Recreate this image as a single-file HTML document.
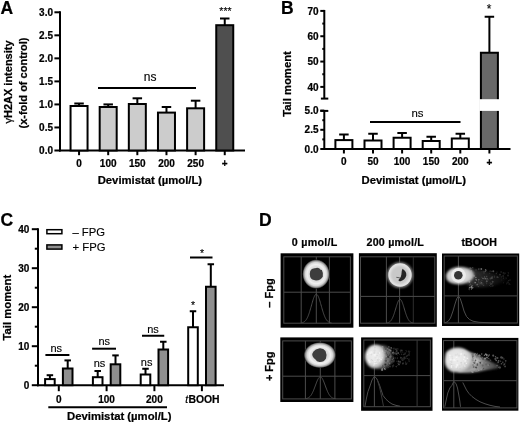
<!DOCTYPE html>
<html><head><meta charset="utf-8"><style>
html,body{margin:0;padding:0;background:#fff;}
svg{display:block;}
text{font-family:"Liberation Sans", Arial, sans-serif;fill:#000;}
text[font-weight="bold"]{stroke:#000;stroke-width:0.22px;}
text[font-weight="normal"]{stroke:#000;stroke-width:0.12px;}
</style></head><body>
<svg width="520" height="424" viewBox="0 0 520 424">
<rect width="520" height="424" fill="#fff"/>
<text x="0.5" y="13.6" font-size="17.5" font-weight="bold" text-anchor="start" >A</text>
<line x1="60" y1="11.3" x2="60" y2="151.5" stroke="#000" stroke-width="2"/>
<line x1="54.4" y1="150.5" x2="60" y2="150.5" stroke="#000" stroke-width="2"/>
<text x="53" y="154.1" font-size="10" font-weight="bold" text-anchor="end" >0.0</text>
<line x1="54.4" y1="127.465" x2="60" y2="127.465" stroke="#000" stroke-width="2"/>
<text x="53" y="131.065" font-size="10" font-weight="bold" text-anchor="end" >0.5</text>
<line x1="54.4" y1="104.43" x2="60" y2="104.43" stroke="#000" stroke-width="2"/>
<text x="53" y="108.03" font-size="10" font-weight="bold" text-anchor="end" >1.0</text>
<line x1="54.4" y1="81.395" x2="60" y2="81.395" stroke="#000" stroke-width="2"/>
<text x="53" y="84.99499999999999" font-size="10" font-weight="bold" text-anchor="end" >1.5</text>
<line x1="54.4" y1="58.36" x2="60" y2="58.36" stroke="#000" stroke-width="2"/>
<text x="53" y="61.96" font-size="10" font-weight="bold" text-anchor="end" >2.0</text>
<line x1="54.4" y1="35.325" x2="60" y2="35.325" stroke="#000" stroke-width="2"/>
<text x="53" y="38.925000000000004" font-size="10" font-weight="bold" text-anchor="end" >2.5</text>
<line x1="54.4" y1="12.289999999999992" x2="60" y2="12.289999999999992" stroke="#000" stroke-width="2"/>
<text x="53" y="15.889999999999992" font-size="10" font-weight="bold" text-anchor="end" >3.0</text>
<line x1="59" y1="150.5" x2="245" y2="150.5" stroke="#000" stroke-width="2"/>
<line x1="79.05" y1="103.5" x2="79.05" y2="106" stroke="#000" stroke-width="2"/>
<line x1="74.3" y1="103.5" x2="83.8" y2="103.5" stroke="#000" stroke-width="2"/>
<rect x="70.55" y="106" width="17" height="44.5" fill="#fff" stroke="#000" stroke-width="2"/>
<line x1="79.05" y1="150.5" x2="79.05" y2="155.2" stroke="#000" stroke-width="2"/>
<text x="79.05" y="166.8" font-size="10" font-weight="bold" text-anchor="middle" >0</text>
<line x1="108.19" y1="104.4" x2="108.19" y2="107" stroke="#000" stroke-width="2"/>
<line x1="103.44" y1="104.4" x2="112.94" y2="104.4" stroke="#000" stroke-width="2"/>
<rect x="99.69" y="107" width="17" height="43.5" fill="#cccccc" stroke="#000" stroke-width="2"/>
<line x1="108.19" y1="150.5" x2="108.19" y2="155.2" stroke="#000" stroke-width="2"/>
<text x="108.19" y="166.8" font-size="10" font-weight="bold" text-anchor="middle" >100</text>
<line x1="137.32999999999998" y1="98.3" x2="137.32999999999998" y2="104" stroke="#000" stroke-width="2"/>
<line x1="132.57999999999998" y1="98.3" x2="142.07999999999998" y2="98.3" stroke="#000" stroke-width="2"/>
<rect x="128.82999999999998" y="104" width="17" height="46.5" fill="#cccccc" stroke="#000" stroke-width="2"/>
<line x1="137.32999999999998" y1="150.5" x2="137.32999999999998" y2="155.2" stroke="#000" stroke-width="2"/>
<text x="137.32999999999998" y="166.8" font-size="10" font-weight="bold" text-anchor="middle" >150</text>
<line x1="166.47" y1="107" x2="166.47" y2="112.6" stroke="#000" stroke-width="2"/>
<line x1="161.72" y1="107" x2="171.22" y2="107" stroke="#000" stroke-width="2"/>
<rect x="157.97" y="112.6" width="17" height="37.900000000000006" fill="#cccccc" stroke="#000" stroke-width="2"/>
<line x1="166.47" y1="150.5" x2="166.47" y2="155.2" stroke="#000" stroke-width="2"/>
<text x="166.47" y="166.8" font-size="10" font-weight="bold" text-anchor="middle" >200</text>
<line x1="195.61" y1="100.7" x2="195.61" y2="108.3" stroke="#000" stroke-width="2"/>
<line x1="190.86" y1="100.7" x2="200.36" y2="100.7" stroke="#000" stroke-width="2"/>
<rect x="187.11" y="108.3" width="17" height="42.2" fill="#cccccc" stroke="#000" stroke-width="2"/>
<line x1="195.61" y1="150.5" x2="195.61" y2="155.2" stroke="#000" stroke-width="2"/>
<text x="195.61" y="166.8" font-size="10" font-weight="bold" text-anchor="middle" >250</text>
<line x1="224.75" y1="18.5" x2="224.75" y2="25.2" stroke="#000" stroke-width="2"/>
<line x1="220.0" y1="18.5" x2="229.5" y2="18.5" stroke="#000" stroke-width="2"/>
<rect x="216.25" y="25.2" width="17" height="125.3" fill="#4f4f4f" stroke="#000" stroke-width="2"/>
<line x1="224.75" y1="150.5" x2="224.75" y2="155.2" stroke="#000" stroke-width="2"/>
<text x="224.75" y="167.4" font-size="10" font-weight="bold" text-anchor="middle" >+</text>
<line x1="98" y1="88" x2="196" y2="88" stroke="#000" stroke-width="2"/>
<text x="150.2" y="81.3" font-size="12" font-weight="normal" text-anchor="middle" >ns</text>
<text x="225.5" y="15.3" font-size="10.5" font-weight="normal" text-anchor="middle" >***</text>
<text x="149.9" y="184" font-size="11.3" font-weight="bold" text-anchor="middle" >Devimistat (µmol/L)</text>
<g transform="translate(11.8,82) rotate(-90)"><text x="0" y="0" font-size="11" font-weight="bold" text-anchor="middle"><tspan font-weight="normal">γ</tspan>H2AX intensity</text></g>
<g transform="translate(26.9,83) rotate(-90)"><text x="0" y="0" font-size="11" font-weight="bold" text-anchor="middle">(x-fold of control)</text></g>
<text x="281" y="13.7" font-size="17.5" font-weight="bold" text-anchor="start" >B</text>
<line x1="324.3" y1="9.91000000000001" x2="324.3" y2="98.6" stroke="#000" stroke-width="2"/>
<line x1="320.9" y1="98.6" x2="328.3" y2="98.6" stroke="#000" stroke-width="2"/>
<line x1="320.3" y1="86.9" x2="324.3" y2="86.9" stroke="#000" stroke-width="2"/>
<text x="318.5" y="90.5" font-size="10" font-weight="bold" text-anchor="end" >40</text>
<line x1="320.3" y1="61.57000000000001" x2="324.3" y2="61.57000000000001" stroke="#000" stroke-width="2"/>
<text x="318.5" y="65.17" font-size="10" font-weight="bold" text-anchor="end" >50</text>
<line x1="320.3" y1="36.24000000000001" x2="324.3" y2="36.24000000000001" stroke="#000" stroke-width="2"/>
<text x="318.5" y="39.84000000000001" font-size="10" font-weight="bold" text-anchor="end" >60</text>
<line x1="320.3" y1="10.91000000000001" x2="324.3" y2="10.91000000000001" stroke="#000" stroke-width="2"/>
<text x="318.5" y="14.51000000000001" font-size="10" font-weight="bold" text-anchor="end" >70</text>
<line x1="322.3" y1="74.23500000000001" x2="324.3" y2="74.23500000000001" stroke="#000" stroke-width="2"/>
<line x1="322.3" y1="48.90500000000001" x2="324.3" y2="48.90500000000001" stroke="#000" stroke-width="2"/>
<line x1="322.3" y1="23.57500000000001" x2="324.3" y2="23.57500000000001" stroke="#000" stroke-width="2"/>
<line x1="324.3" y1="110.0" x2="324.3" y2="150" stroke="#000" stroke-width="2"/>
<line x1="320.3" y1="110.9" x2="328.3" y2="110.9" stroke="#000" stroke-width="2"/>
<line x1="320.3" y1="149.0" x2="324.3" y2="149.0" stroke="#000" stroke-width="2"/>
<text x="318.5" y="152.6" font-size="10" font-weight="bold" text-anchor="end" >0.0</text>
<line x1="320.3" y1="129.8" x2="324.3" y2="129.8" stroke="#000" stroke-width="2"/>
<text x="318.5" y="133.4" font-size="10" font-weight="bold" text-anchor="end" >2.5</text>
<line x1="320.3" y1="110.6" x2="324.3" y2="110.6" stroke="#000" stroke-width="2"/>
<text x="318.5" y="114.19999999999999" font-size="10" font-weight="bold" text-anchor="end" >5.0</text>
<line x1="322.3" y1="139.4" x2="324.3" y2="139.4" stroke="#000" stroke-width="2"/>
<line x1="322.3" y1="120.2" x2="324.3" y2="120.2" stroke="#000" stroke-width="2"/>
<line x1="323.3" y1="149" x2="510.5" y2="149" stroke="#000" stroke-width="2"/>
<line x1="343.9" y1="134.5" x2="343.9" y2="140.1" stroke="#000" stroke-width="2"/>
<line x1="339.15" y1="134.5" x2="348.65" y2="134.5" stroke="#000" stroke-width="2"/>
<rect x="335.4" y="140.1" width="17" height="8.900000000000006" fill="#fff" stroke="#000" stroke-width="2"/>
<line x1="373.0" y1="133.75" x2="373.0" y2="140.5" stroke="#000" stroke-width="2"/>
<line x1="368.25" y1="133.75" x2="377.75" y2="133.75" stroke="#000" stroke-width="2"/>
<rect x="364.5" y="140.5" width="17" height="8.5" fill="#fff" stroke="#000" stroke-width="2"/>
<line x1="402.09999999999997" y1="133" x2="402.09999999999997" y2="137.75" stroke="#000" stroke-width="2"/>
<line x1="397.34999999999997" y1="133" x2="406.84999999999997" y2="133" stroke="#000" stroke-width="2"/>
<rect x="393.59999999999997" y="137.75" width="17" height="11.25" fill="#fff" stroke="#000" stroke-width="2"/>
<line x1="431.2" y1="136.75" x2="431.2" y2="141" stroke="#000" stroke-width="2"/>
<line x1="426.45" y1="136.75" x2="435.95" y2="136.75" stroke="#000" stroke-width="2"/>
<rect x="422.7" y="141" width="17" height="8" fill="#fff" stroke="#000" stroke-width="2"/>
<line x1="460.29999999999995" y1="133.75" x2="460.29999999999995" y2="138.5" stroke="#000" stroke-width="2"/>
<line x1="455.54999999999995" y1="133.75" x2="465.04999999999995" y2="133.75" stroke="#000" stroke-width="2"/>
<rect x="451.79999999999995" y="138.5" width="17" height="10.5" fill="#fff" stroke="#000" stroke-width="2"/>
<line x1="343.9" y1="149" x2="343.9" y2="153.5" stroke="#000" stroke-width="2"/>
<text x="343.9" y="165" font-size="10" font-weight="bold" text-anchor="middle" >0</text>
<line x1="373.0" y1="149" x2="373.0" y2="153.5" stroke="#000" stroke-width="2"/>
<text x="373.0" y="165" font-size="10" font-weight="bold" text-anchor="middle" >50</text>
<line x1="402.09999999999997" y1="149" x2="402.09999999999997" y2="153.5" stroke="#000" stroke-width="2"/>
<text x="402.09999999999997" y="165" font-size="10" font-weight="bold" text-anchor="middle" >100</text>
<line x1="431.2" y1="149" x2="431.2" y2="153.5" stroke="#000" stroke-width="2"/>
<text x="431.2" y="165" font-size="10" font-weight="bold" text-anchor="middle" >150</text>
<line x1="460.29999999999995" y1="149" x2="460.29999999999995" y2="153.5" stroke="#000" stroke-width="2"/>
<text x="460.29999999999995" y="165" font-size="10" font-weight="bold" text-anchor="middle" >200</text>
<line x1="489.4" y1="149" x2="489.4" y2="153.5" stroke="#000" stroke-width="2"/>
<text x="489.4" y="165.7" font-size="10" font-weight="bold" text-anchor="middle" >+</text>
<line x1="489.4" y1="16.75" x2="489.4" y2="52.75" stroke="#000" stroke-width="2"/>
<line x1="484.65" y1="16.75" x2="494.15" y2="16.75" stroke="#000" stroke-width="2"/>
<rect x="480.9" y="52.75" width="17" height="96.25" fill="#686868" stroke="#000" stroke-width="2"/>
<rect x="479.4" y="99.2" width="20" height="11.7" fill="#fff"/>
<text x="489.2" y="12.8" font-size="12" font-weight="normal" text-anchor="middle" >*</text>
<line x1="370" y1="122" x2="460.5" y2="122" stroke="#000" stroke-width="2"/>
<text x="417.5" y="116.8" font-size="11.4" font-weight="normal" text-anchor="middle" >ns</text>
<text x="413.7" y="183.6" font-size="11.3" font-weight="bold" text-anchor="middle" >Devimistat (µmol/L)</text>
<g transform="translate(291.3,84) rotate(-90)"><text x="0" y="0" font-size="11.3" font-weight="bold" text-anchor="middle">Tail moment</text></g>
<text x="0.5" y="225.9" font-size="17.5" font-weight="bold" text-anchor="start" >C</text>
<line x1="38.0" y1="228.2" x2="38.0" y2="386.2" stroke="#000" stroke-width="2"/>
<line x1="31.8" y1="385.2" x2="38.0" y2="385.2" stroke="#000" stroke-width="2"/>
<text x="29.4" y="388.8" font-size="10" font-weight="bold" text-anchor="end" >0</text>
<line x1="31.8" y1="346.2" x2="38.0" y2="346.2" stroke="#000" stroke-width="2"/>
<text x="29.4" y="349.8" font-size="10" font-weight="bold" text-anchor="end" >10</text>
<line x1="31.8" y1="307.2" x2="38.0" y2="307.2" stroke="#000" stroke-width="2"/>
<text x="29.4" y="310.8" font-size="10" font-weight="bold" text-anchor="end" >20</text>
<line x1="31.8" y1="268.2" x2="38.0" y2="268.2" stroke="#000" stroke-width="2"/>
<text x="29.4" y="271.8" font-size="10" font-weight="bold" text-anchor="end" >30</text>
<line x1="31.8" y1="229.2" x2="38.0" y2="229.2" stroke="#000" stroke-width="2"/>
<text x="29.4" y="232.79999999999998" font-size="10" font-weight="bold" text-anchor="end" >40</text>
<line x1="34.8" y1="365.7" x2="38.0" y2="365.7" stroke="#000" stroke-width="2"/>
<line x1="34.8" y1="326.7" x2="38.0" y2="326.7" stroke="#000" stroke-width="2"/>
<line x1="34.8" y1="287.7" x2="38.0" y2="287.7" stroke="#000" stroke-width="2"/>
<line x1="34.8" y1="248.7" x2="38.0" y2="248.7" stroke="#000" stroke-width="2"/>
<line x1="37.0" y1="385.2" x2="224" y2="385.2" stroke="#000" stroke-width="2"/>
<line x1="49.9" y1="375.2" x2="49.9" y2="379.1" stroke="#000" stroke-width="2"/>
<line x1="46.65" y1="375.2" x2="53.15" y2="375.2" stroke="#000" stroke-width="2"/>
<rect x="45.1" y="379.1" width="9.6" height="6.099999999999966" fill="#fff" stroke="#000" stroke-width="2"/>
<line x1="67.7" y1="360.4" x2="67.7" y2="368.5" stroke="#000" stroke-width="2"/>
<line x1="64.45" y1="360.4" x2="70.95" y2="360.4" stroke="#000" stroke-width="2"/>
<rect x="62.900000000000006" y="368.5" width="9.6" height="16.69999999999999" fill="#8f8f8f" stroke="#000" stroke-width="2"/>
<line x1="58.8" y1="385.2" x2="58.8" y2="391.2" stroke="#000" stroke-width="2"/>
<text x="58.8" y="403.2" font-size="10" font-weight="bold" text-anchor="middle" >0</text>
<line x1="97.69999999999999" y1="371" x2="97.69999999999999" y2="377.2" stroke="#000" stroke-width="2"/>
<line x1="94.44999999999999" y1="371" x2="100.94999999999999" y2="371" stroke="#000" stroke-width="2"/>
<rect x="92.89999999999999" y="377.2" width="9.6" height="8.0" fill="#fff" stroke="#000" stroke-width="2"/>
<line x1="115.5" y1="355.4" x2="115.5" y2="364.3" stroke="#000" stroke-width="2"/>
<line x1="112.25" y1="355.4" x2="118.75" y2="355.4" stroke="#000" stroke-width="2"/>
<rect x="110.7" y="364.3" width="9.6" height="20.899999999999977" fill="#8f8f8f" stroke="#000" stroke-width="2"/>
<line x1="106.6" y1="385.2" x2="106.6" y2="391.2" stroke="#000" stroke-width="2"/>
<text x="106.6" y="403.2" font-size="10" font-weight="bold" text-anchor="middle" >100</text>
<line x1="145.5" y1="368.75" x2="145.5" y2="374.5" stroke="#000" stroke-width="2"/>
<line x1="142.25" y1="368.75" x2="148.75" y2="368.75" stroke="#000" stroke-width="2"/>
<rect x="140.7" y="374.5" width="9.6" height="10.699999999999989" fill="#fff" stroke="#000" stroke-width="2"/>
<line x1="163.3" y1="341.75" x2="163.3" y2="349.5" stroke="#000" stroke-width="2"/>
<line x1="160.05" y1="341.75" x2="166.55" y2="341.75" stroke="#000" stroke-width="2"/>
<rect x="158.5" y="349.5" width="9.6" height="35.69999999999999" fill="#8f8f8f" stroke="#000" stroke-width="2"/>
<line x1="154.4" y1="385.2" x2="154.4" y2="391.2" stroke="#000" stroke-width="2"/>
<text x="154.4" y="403.2" font-size="10" font-weight="bold" text-anchor="middle" >200</text>
<line x1="193.0" y1="311.25" x2="193.0" y2="327.25" stroke="#000" stroke-width="2"/>
<line x1="189.75" y1="311.25" x2="196.25" y2="311.25" stroke="#000" stroke-width="2"/>
<rect x="188.2" y="327.25" width="9.6" height="57.94999999999999" fill="#fff" stroke="#000" stroke-width="2"/>
<line x1="210.8" y1="264.25" x2="210.8" y2="286.75" stroke="#000" stroke-width="2"/>
<line x1="207.55" y1="264.25" x2="214.05" y2="264.25" stroke="#000" stroke-width="2"/>
<rect x="206.0" y="286.75" width="9.6" height="98.44999999999999" fill="#8f8f8f" stroke="#000" stroke-width="2"/>
<line x1="201.9" y1="385.2" x2="201.9" y2="391.2" stroke="#000" stroke-width="2"/>
<text x="202.5" y="403.2" font-size="10.4" font-weight="bold" text-anchor="middle" ><tspan font-style="italic" font-weight="normal">t</tspan><tspan dx="0.2">BOOH</tspan></text>
<line x1="45.4" y1="355" x2="69.4" y2="355" stroke="#000" stroke-width="2"/>
<text x="56.3" y="351.7" font-size="11" font-weight="normal" text-anchor="middle" >ns</text>
<line x1="92.1" y1="348.7" x2="116" y2="348.7" stroke="#000" stroke-width="2"/>
<text x="104.3" y="345" font-size="11" font-weight="normal" text-anchor="middle" >ns</text>
<text x="99.5" y="366.5" font-size="11" font-weight="normal" text-anchor="middle" >ns</text>
<line x1="142" y1="335.75" x2="164.25" y2="335.75" stroke="#000" stroke-width="2"/>
<text x="153" y="332.5" font-size="11" font-weight="normal" text-anchor="middle" >ns</text>
<text x="146.6" y="365.5" font-size="11" font-weight="normal" text-anchor="middle" >ns</text>
<text x="193" y="309.2" font-size="10.5" font-weight="normal" text-anchor="middle" >*</text>
<line x1="190" y1="257.5" x2="212.5" y2="257.5" stroke="#000" stroke-width="2"/>
<text x="202" y="257.3" font-size="10.5" font-weight="normal" text-anchor="middle" >*</text>
<line x1="48.3" y1="407.2" x2="167" y2="407.2" stroke="#000" stroke-width="2"/>
<text x="119.3" y="420.2" font-size="11.3" font-weight="bold" text-anchor="middle" >Devimistat (µmol/L)</text>
<g transform="translate(11,307.7) rotate(-90)"><text x="0" y="0" font-size="11.3" font-weight="bold" text-anchor="middle">Tail moment</text></g>
<rect x="46.9" y="229.7" width="15" height="4" fill="#fff" stroke="#000" stroke-width="1.5"/>
<rect x="46.9" y="244.9" width="15" height="4.2" fill="#8f8f8f" stroke="#000" stroke-width="1.5"/>
<text x="72.4" y="235.5" font-size="11.3" font-weight="normal" text-anchor="start" >– FPG</text>
<text x="72.6" y="251.2" font-size="11.3" font-weight="normal" text-anchor="start" >+ FPG</text>
<text x="259" y="225.6" font-size="17.5" font-weight="bold" text-anchor="start" >D</text>
<text x="314.5" y="246.4" font-size="10.7" font-weight="bold" text-anchor="middle" textLength="45.6" lengthAdjust="spacing">0 µmol/L</text>
<text x="395.2" y="246.4" font-size="10.7" font-weight="bold" text-anchor="middle" textLength="57.4" lengthAdjust="spacing">200 µmol/L</text>
<text x="479.2" y="246.4" font-size="10.6" font-weight="bold" text-anchor="middle" >tBOOH</text>
<g transform="translate(272.6,293) rotate(-90)"><text x="0" y="0" font-size="11" font-weight="bold" text-anchor="middle">– Fpg</text></g>
<g transform="translate(272.6,366.3) rotate(-90)"><text x="0" y="0" font-size="11" font-weight="bold" text-anchor="middle">+ Fpg</text></g>
<defs>
<filter id="b03" x="-50%" y="-50%" width="200%" height="200%"><feGaussianBlur stdDeviation="0.3"/></filter>
<filter id="b05" x="-50%" y="-50%" width="200%" height="200%"><feGaussianBlur stdDeviation="0.5"/></filter>
<filter id="b08" x="-50%" y="-50%" width="200%" height="200%"><feGaussianBlur stdDeviation="0.8"/></filter>
<filter id="b10" x="-50%" y="-50%" width="200%" height="200%"><feGaussianBlur stdDeviation="1.0"/></filter>
<filter id="b15" x="-50%" y="-50%" width="200%" height="200%"><feGaussianBlur stdDeviation="1.5"/></filter>
<radialGradient id="r5" cx="0.42" cy="0.45" r="0.58"><stop offset="0" stop-color="#f0f0f0"/><stop offset="0.55" stop-color="#e4e4e4"/><stop offset="0.8" stop-color="#c4c4c4"/><stop offset="1" stop-color="#6a6a6a"/></radialGradient>
<radialGradient id="r6" cx="0.42" cy="0.45" r="0.6"><stop offset="0" stop-color="#f0f0f0"/><stop offset="0.6" stop-color="#e2e2e2"/><stop offset="0.85" stop-color="#c4c4c4"/><stop offset="1" stop-color="#8a8a8a"/></radialGradient>
<linearGradient id="t6" x1="0" x2="1" y1="0" y2="0"><stop offset="0" stop-color="#bdbdbd"/><stop offset="0.45" stop-color="#9a9a9a"/><stop offset="0.8" stop-color="#5a5a5a"/><stop offset="1" stop-color="#303030"/></linearGradient>
<linearGradient id="t3" x1="0" x2="1" y1="0" y2="0"><stop offset="0" stop-color="#a0a0a0"/><stop offset="0.4" stop-color="#606060"/><stop offset="1" stop-color="#101010"/></linearGradient>
<radialGradient id="ringA"><stop offset="0" stop-color="#d8d8d8"/><stop offset="0.5" stop-color="#dcdcdc"/><stop offset="0.66" stop-color="#f0f0f0"/><stop offset="0.8" stop-color="#d6d6d6"/><stop offset="0.91" stop-color="#8e8e8e"/><stop offset="1" stop-color="#111"/></radialGradient>
<radialGradient id="h3" cx="0.45" cy="0.5" r="0.55"><stop offset="0" stop-color="#e4e4e4"/><stop offset="0.6" stop-color="#d6d6d6"/><stop offset="0.85" stop-color="#bcbcbc"/><stop offset="1" stop-color="#7a7a7a"/></radialGradient>
</defs>
<rect x="280.6" y="253.3" width="72.8" height="74.4" fill="#000"/>
<rect x="283.8" y="256.8" width="66.59999999999997" height="66.39999999999998" fill="none" stroke="#4c4c4c" stroke-width="1.0"/>
<line x1="301.2" y1="256.8" x2="301.2" y2="323.2" stroke="#4c4c4c" stroke-width="1.0"/>
<line x1="316.3" y1="256.8" x2="316.3" y2="323.2" stroke="#4c4c4c" stroke-width="1.0"/>
<line x1="329.4" y1="256.8" x2="329.4" y2="323.2" stroke="#4c4c4c" stroke-width="1.0"/>
<line x1="283.8" y1="292.2" x2="350.4" y2="292.2" stroke="#4c4c4c" stroke-width="1.0"/>
<ellipse cx="316.1" cy="274.1" rx="13.6" ry="14.6" fill="url(#ringA)" filter="url(#b03)"/>
<path d="M310.2,271 Q311.5,268 315,268.3 Q317.5,267.2 319.5,268.6 Q320.5,270.2 321.8,269.8 Q323.5,273 322.8,276.8 Q320.5,280.6 316,280.4 Q311.6,280.2 310.2,277 Q309.4,274 310.2,271Z" fill="#3e3e3e" filter="url(#b03)"/>
<polyline points="301.50,322.90 301.88,322.82 302.25,322.72 302.62,322.61 303.00,322.47 303.38,322.31 303.75,322.11 304.12,321.88 304.50,321.60 304.88,321.29 305.25,320.92 305.62,320.50 306.00,320.02 306.38,319.47 306.75,318.86 307.12,318.18 307.50,317.42 307.88,316.59 308.25,315.68 308.62,314.70 309.00,313.64 309.38,312.52 309.75,311.33 310.12,310.09 310.50,308.81 310.88,307.49 311.25,306.15 311.62,304.80 312.00,303.47 312.38,302.16 312.75,300.89 313.12,299.69 313.50,298.57 313.88,297.54 314.25,296.63 314.62,295.85 315.00,295.20 315.38,294.71 315.75,294.38 316.12,294.22 316.50,294.22 316.88,294.40 317.25,294.74 317.62,295.24 318.00,295.89 318.38,296.69 318.75,297.61 319.12,298.64 319.50,299.77 319.88,300.98 320.25,302.24 320.62,303.56 321.00,304.89 321.38,306.24 321.75,307.58 322.12,308.89 322.50,310.18 322.88,311.41 323.25,312.59 323.62,313.71 324.00,314.76 324.38,315.74 324.75,316.64 325.12,317.47 325.50,318.22 325.88,318.90 326.25,319.51 326.62,320.05 327.00,320.53 327.38,320.95 327.75,321.31 328.12,321.62 328.50,321.89 328.88,322.12 329.25,322.32 329.62,322.48 330.00,322.62 330.38,322.73 330.75,322.83 331.12,322.90 331.50,322.96" fill="none" stroke="#4c4c4c" stroke-width="1.0"/>
<rect x="358.9" y="253.2" width="77.9" height="73.6" fill="#000"/>
<rect x="360.5" y="256.8" width="74.30000000000001" height="66.39999999999998" fill="none" stroke="#4c4c4c" stroke-width="1.0"/>
<line x1="386.4" y1="256.8" x2="386.4" y2="323.2" stroke="#4c4c4c" stroke-width="1.0"/>
<line x1="399.6" y1="256.8" x2="399.6" y2="323.2" stroke="#4c4c4c" stroke-width="1.0"/>
<line x1="413.3" y1="256.8" x2="413.3" y2="323.2" stroke="#2e2e2e" stroke-width="1.0"/>
<line x1="360.5" y1="296.4" x2="434.8" y2="296.4" stroke="#4c4c4c" stroke-width="1.0"/>
<circle cx="400" cy="275" r="13.1" fill="#7a7a7a" filter="url(#b08)"/>
<circle cx="400" cy="275" r="11.7" fill="#e4e4e4" filter="url(#b05)"/>
<circle cx="399.8" cy="274.8" r="9.4" fill="#c8c8c8" filter="url(#b08)"/>
<path d="M402.5,268.8 Q406.8,271.5 406.3,275.5 Q405.5,279.5 400.5,281.3 Q398.3,281.4 398.5,280 Q401.3,277.5 401.4,274.5 Q401.4,271 402.5,268.8Z" fill="#262626" filter="url(#b03)"/>
<line x1="396.3" y1="277.3" x2="399.8" y2="277.8" stroke="#555" stroke-width="0.9"/>
<polyline points="386.50,323.03 386.84,322.98 387.18,322.92 387.51,322.85 387.85,322.76 388.19,322.65 388.52,322.52 388.86,322.37 389.20,322.18 389.54,321.96 389.88,321.71 390.21,321.41 390.55,321.06 390.89,320.67 391.23,320.22 391.56,319.71 391.90,319.15 392.24,318.51 392.57,317.82 392.91,317.06 393.25,316.23 393.59,315.34 393.93,314.39 394.26,313.39 394.60,312.34 394.94,311.25 395.27,310.13 395.61,309.00 395.95,307.86 396.29,306.74 396.62,305.64 396.96,304.58 397.30,303.58 397.64,302.65 397.98,301.81 398.31,301.07 398.65,300.45 398.99,299.95 399.32,299.59 399.66,299.37 400.00,299.30 400.34,299.37 400.68,299.59 401.01,299.95 401.35,300.45 401.69,301.07 402.02,301.81 402.36,302.65 402.70,303.58 403.04,304.58 403.38,305.64 403.71,306.74 404.05,307.86 404.39,309.00 404.73,310.13 405.06,311.25 405.40,312.34 405.74,313.39 406.07,314.39 406.41,315.34 406.75,316.23 407.09,317.06 407.43,317.82 407.76,318.51 408.10,319.15 408.44,319.71 408.77,320.22 409.11,320.67 409.45,321.06 409.79,321.41 410.12,321.71 410.46,321.96 410.80,322.18 411.14,322.37 411.48,322.52 411.81,322.65 412.15,322.76 412.49,322.85 412.82,322.92 413.16,322.98 413.50,323.03" fill="none" stroke="#4c4c4c" stroke-width="1.0"/>
<rect x="442" y="253.5" width="77.2" height="72.5" fill="#000"/>
<rect x="444.2" y="256" width="73.19999999999999" height="67" fill="none" stroke="#4c4c4c" stroke-width="1.0"/>
<line x1="458.4" y1="256" x2="458.4" y2="323" stroke="#4c4c4c" stroke-width="1.0"/>
<line x1="444.2" y1="295.9" x2="517.4" y2="295.9" stroke="#4c4c4c" stroke-width="1.0"/>
<path d="M468,268.5 Q482,270 496,274 Q506,277.5 508,280 Q500,284 488,286.5 Q476,288 467,285Z" fill="url(#t3)" filter="url(#b15)" opacity="0.35"/>
<g filter="url(#b05)">
<circle cx="478.8" cy="279.7" r="0.68" fill="rgb(112,112,112)"/>
<circle cx="481.1" cy="280.2" r="0.71" fill="rgb(41,41,41)"/>
<circle cx="486.8" cy="283.8" r="0.58" fill="rgb(31,31,31)"/>
<circle cx="469.5" cy="285.6" r="0.43" fill="rgb(110,110,110)"/>
<circle cx="508.7" cy="284.0" r="0.77" fill="rgb(27,27,27)"/>
<circle cx="470.5" cy="267.5" r="0.44" fill="rgb(88,88,88)"/>
<circle cx="471.1" cy="272.7" r="0.68" fill="rgb(28,28,28)"/>
<circle cx="478.4" cy="285.5" r="0.78" fill="rgb(75,75,75)"/>
<circle cx="480.8" cy="281.7" r="0.57" fill="rgb(65,65,65)"/>
<circle cx="509.8" cy="284.2" r="0.82" fill="rgb(25,25,25)"/>
<circle cx="474.1" cy="272.7" r="0.44" fill="rgb(56,56,56)"/>
<circle cx="494.4" cy="276.9" r="0.63" fill="rgb(65,65,65)"/>
<circle cx="507.0" cy="282.8" r="0.53" fill="rgb(25,25,25)"/>
<circle cx="503.6" cy="278.1" r="0.64" fill="rgb(44,44,44)"/>
<circle cx="469.4" cy="281.5" r="0.56" fill="rgb(121,121,121)"/>
<circle cx="469.5" cy="274.7" r="0.85" fill="rgb(144,144,144)"/>
<circle cx="469.9" cy="272.7" r="0.44" fill="rgb(37,37,37)"/>
<circle cx="496.3" cy="273.6" r="0.67" fill="rgb(48,48,48)"/>
<circle cx="471.1" cy="283.7" r="0.79" fill="rgb(40,40,40)"/>
<circle cx="469.9" cy="276.7" r="0.56" fill="rgb(51,51,51)"/>
<circle cx="507.9" cy="282.2" r="0.93" fill="rgb(26,26,26)"/>
<circle cx="471.5" cy="276.1" r="0.79" fill="rgb(125,125,125)"/>
<circle cx="469.7" cy="289.7" r="0.55" fill="rgb(51,51,51)"/>
<circle cx="494.8" cy="275.8" r="0.44" fill="rgb(38,38,38)"/>
<circle cx="469.5" cy="280.4" r="0.76" fill="rgb(54,54,54)"/>
<circle cx="475.9" cy="277.5" r="0.69" fill="rgb(124,124,124)"/>
<circle cx="484.1" cy="285.4" r="0.49" fill="rgb(39,39,39)"/>
<circle cx="503.5" cy="282.7" r="0.51" fill="rgb(29,29,29)"/>
<circle cx="492.8" cy="285.7" r="0.97" fill="rgb(35,35,35)"/>
<circle cx="501.7" cy="279.9" r="0.46" fill="rgb(35,35,35)"/>
<circle cx="469.1" cy="289.1" r="0.82" fill="rgb(54,54,54)"/>
<circle cx="472.6" cy="285.6" r="0.58" fill="rgb(93,93,93)"/>
<circle cx="470.8" cy="283.5" r="0.54" fill="rgb(33,33,33)"/>
<circle cx="483.4" cy="285.2" r="0.57" fill="rgb(74,74,74)"/>
<circle cx="504.1" cy="274.6" r="0.56" fill="rgb(25,25,25)"/>
<circle cx="478.6" cy="269.6" r="0.62" fill="rgb(41,41,41)"/>
<circle cx="484.0" cy="271.6" r="0.93" fill="rgb(53,53,53)"/>
<circle cx="508.6" cy="280.4" r="0.75" fill="rgb(28,28,28)"/>
<circle cx="470.2" cy="268.0" r="0.95" fill="rgb(27,27,27)"/>
<circle cx="490.6" cy="286.3" r="0.78" fill="rgb(26,26,26)"/>
<circle cx="480.0" cy="283.1" r="1.00" fill="rgb(54,54,54)"/>
<circle cx="469.4" cy="279.6" r="0.94" fill="rgb(116,116,116)"/>
<circle cx="492.7" cy="281.8" r="0.95" fill="rgb(66,66,66)"/>
<circle cx="475.3" cy="282.4" r="0.92" fill="rgb(120,120,120)"/>
<circle cx="477.5" cy="284.5" r="0.74" fill="rgb(110,110,110)"/>
<circle cx="486.6" cy="276.4" r="0.77" fill="rgb(66,66,66)"/>
<circle cx="469.4" cy="281.7" r="0.93" fill="rgb(147,147,147)"/>
<circle cx="492.2" cy="276.7" r="0.75" fill="rgb(64,64,64)"/>
<circle cx="478.4" cy="285.4" r="0.85" fill="rgb(33,33,33)"/>
<circle cx="469.1" cy="280.8" r="0.54" fill="rgb(85,85,85)"/>
<circle cx="490.5" cy="278.5" r="0.95" fill="rgb(61,61,61)"/>
<circle cx="472.5" cy="267.7" r="0.81" fill="rgb(59,59,59)"/>
<circle cx="471.3" cy="271.1" r="0.80" fill="rgb(131,131,131)"/>
<circle cx="478.4" cy="286.5" r="0.80" fill="rgb(56,56,56)"/>
<circle cx="471.2" cy="277.0" r="0.95" fill="rgb(120,120,120)"/>
<circle cx="501.6" cy="276.9" r="0.59" fill="rgb(39,39,39)"/>
<circle cx="470.1" cy="278.4" r="0.91" fill="rgb(126,126,126)"/>
<circle cx="491.2" cy="286.0" r="0.50" fill="rgb(40,40,40)"/>
<circle cx="478.8" cy="273.9" r="0.65" fill="rgb(45,45,45)"/>
<circle cx="486.6" cy="278.4" r="0.90" fill="rgb(47,47,47)"/>
<circle cx="508.7" cy="277.9" r="0.42" fill="rgb(25,25,25)"/>
<circle cx="501.1" cy="272.1" r="0.74" fill="rgb(44,44,44)"/>
<circle cx="474.0" cy="284.8" r="0.48" fill="rgb(27,27,27)"/>
<circle cx="478.9" cy="268.9" r="0.54" fill="rgb(103,103,103)"/>
<circle cx="470.2" cy="268.2" r="0.67" fill="rgb(101,101,101)"/>
<circle cx="486.8" cy="281.3" r="0.98" fill="rgb(81,81,81)"/>
<circle cx="489.7" cy="273.3" r="0.51" fill="rgb(54,54,54)"/>
<circle cx="469.0" cy="277.9" r="0.51" fill="rgb(114,114,114)"/>
<circle cx="472.9" cy="275.1" r="0.71" fill="rgb(103,103,103)"/>
<circle cx="486.1" cy="283.2" r="0.88" fill="rgb(53,53,53)"/>
<circle cx="503.3" cy="273.0" r="0.83" fill="rgb(43,43,43)"/>
<circle cx="470.0" cy="277.4" r="0.95" fill="rgb(101,101,101)"/>
<circle cx="476.1" cy="279.9" r="0.88" fill="rgb(115,115,115)"/>
<circle cx="506.0" cy="278.0" r="0.52" fill="rgb(32,32,32)"/>
<circle cx="491.8" cy="283.8" r="0.83" fill="rgb(60,60,60)"/>
<circle cx="471.5" cy="287.4" r="0.99" fill="rgb(139,139,139)"/>
<circle cx="482.4" cy="284.1" r="0.95" fill="rgb(51,51,51)"/>
<circle cx="500.0" cy="276.3" r="0.66" fill="rgb(27,27,27)"/>
<circle cx="483.0" cy="283.6" r="0.42" fill="rgb(65,65,65)"/>
<circle cx="497.0" cy="271.9" r="0.50" fill="rgb(56,56,56)"/>
<circle cx="474.7" cy="284.7" r="0.49" fill="rgb(40,40,40)"/>
<circle cx="481.5" cy="282.9" r="0.81" fill="rgb(98,98,98)"/>
<circle cx="506.1" cy="278.4" r="0.45" fill="rgb(36,36,36)"/>
<circle cx="471.7" cy="279.1" r="0.84" fill="rgb(58,58,58)"/>
<circle cx="487.3" cy="278.9" r="0.74" fill="rgb(83,83,83)"/>
<circle cx="474.0" cy="275.9" r="0.94" fill="rgb(117,117,117)"/>
<circle cx="471.4" cy="286.3" r="0.71" fill="rgb(138,138,138)"/>
<circle cx="484.0" cy="272.9" r="0.70" fill="rgb(67,67,67)"/>
<circle cx="485.6" cy="269.8" r="0.71" fill="rgb(97,97,97)"/>
<circle cx="476.9" cy="284.8" r="0.69" fill="rgb(81,81,81)"/>
<circle cx="490.1" cy="271.1" r="0.65" fill="rgb(57,57,57)"/>
<circle cx="506.9" cy="283.7" r="0.68" fill="rgb(27,27,27)"/>
<circle cx="470.0" cy="277.0" r="0.94" fill="rgb(124,124,124)"/>
<circle cx="479.8" cy="274.8" r="0.77" fill="rgb(42,42,42)"/>
<circle cx="504.7" cy="273.7" r="0.41" fill="rgb(37,37,37)"/>
<circle cx="471.1" cy="272.4" r="0.59" fill="rgb(106,106,106)"/>
<circle cx="475.4" cy="281.0" r="0.84" fill="rgb(36,36,36)"/>
<circle cx="469.9" cy="278.7" r="0.52" fill="rgb(55,55,55)"/>
<circle cx="482.1" cy="277.3" r="0.65" fill="rgb(56,56,56)"/>
<circle cx="482.0" cy="271.9" r="0.78" fill="rgb(42,42,42)"/>
<circle cx="487.3" cy="279.0" r="0.77" fill="rgb(83,83,83)"/>
<circle cx="500.0" cy="274.7" r="0.89" fill="rgb(47,47,47)"/>
<circle cx="503.1" cy="276.0" r="0.95" fill="rgb(31,31,31)"/>
<circle cx="471.6" cy="289.6" r="0.48" fill="rgb(128,128,128)"/>
<circle cx="472.1" cy="283.5" r="0.46" fill="rgb(54,54,54)"/>
<circle cx="498.5" cy="277.3" r="0.48" fill="rgb(52,52,52)"/>
<circle cx="477.0" cy="282.3" r="0.52" fill="rgb(26,26,26)"/>
<circle cx="489.6" cy="285.6" r="0.47" fill="rgb(85,85,85)"/>
<circle cx="481.0" cy="283.6" r="0.81" fill="rgb(69,69,69)"/>
<circle cx="471.0" cy="268.9" r="0.42" fill="rgb(37,37,37)"/>
<circle cx="483.1" cy="278.8" r="0.49" fill="rgb(71,71,71)"/>
<circle cx="471.0" cy="271.9" r="0.99" fill="rgb(125,125,125)"/>
<circle cx="504.8" cy="273.3" r="0.97" fill="rgb(25,25,25)"/>
<circle cx="479.2" cy="283.8" r="0.68" fill="rgb(55,55,55)"/>
<circle cx="481.4" cy="277.1" r="0.41" fill="rgb(77,77,77)"/>
<circle cx="490.6" cy="284.3" r="0.67" fill="rgb(35,35,35)"/>
<circle cx="492.8" cy="277.0" r="0.50" fill="rgb(35,35,35)"/>
<circle cx="481.3" cy="269.0" r="0.88" fill="rgb(103,103,103)"/>
<circle cx="490.8" cy="284.6" r="0.64" fill="rgb(61,61,61)"/>
<circle cx="485.3" cy="278.6" r="0.88" fill="rgb(98,98,98)"/>
<circle cx="472.6" cy="287.5" r="0.87" fill="rgb(109,109,109)"/>
<circle cx="497.3" cy="277.1" r="0.93" fill="rgb(59,59,59)"/>
<circle cx="490.3" cy="283.1" r="0.64" fill="rgb(70,70,70)"/>
<circle cx="491.8" cy="271.4" r="0.68" fill="rgb(43,43,43)"/>
<circle cx="469.0" cy="275.2" r="0.77" fill="rgb(104,104,104)"/>
<circle cx="472.0" cy="288.4" r="0.60" fill="rgb(102,102,102)"/>
<circle cx="488.4" cy="279.7" r="0.63" fill="rgb(60,60,60)"/>
<circle cx="510.0" cy="280.1" r="0.86" fill="rgb(25,25,25)"/>
<circle cx="508.5" cy="272.8" r="0.84" fill="rgb(27,27,27)"/>
<circle cx="472.5" cy="276.3" r="0.52" fill="rgb(30,30,30)"/>
<circle cx="476.0" cy="270.1" r="0.94" fill="rgb(50,50,50)"/>
<circle cx="483.0" cy="278.6" r="0.74" fill="rgb(104,104,104)"/>
<circle cx="509.6" cy="280.1" r="0.45" fill="rgb(25,25,25)"/>
<circle cx="485.2" cy="283.3" r="0.96" fill="rgb(28,28,28)"/>
<circle cx="470.5" cy="277.9" r="0.70" fill="rgb(45,45,45)"/>
<circle cx="485.9" cy="270.4" r="0.65" fill="rgb(94,94,94)"/>
<circle cx="481.9" cy="280.4" r="0.57" fill="rgb(56,56,56)"/>
<circle cx="488.1" cy="279.6" r="0.83" fill="rgb(43,43,43)"/>
<circle cx="473.6" cy="267.9" r="0.43" fill="rgb(52,52,52)"/>
<circle cx="470.5" cy="284.3" r="0.94" fill="rgb(72,72,72)"/>
<circle cx="493.3" cy="271.2" r="0.97" fill="rgb(75,75,75)"/>
<circle cx="469.4" cy="287.8" r="0.69" fill="rgb(78,78,78)"/>
<circle cx="508.0" cy="275.4" r="0.96" fill="rgb(28,28,28)"/>
<circle cx="491.9" cy="278.0" r="0.89" fill="rgb(79,79,79)"/>
<circle cx="485.5" cy="271.4" r="0.67" fill="rgb(71,71,71)"/>
<circle cx="471.3" cy="268.5" r="0.47" fill="rgb(87,87,87)"/>
<circle cx="478.5" cy="281.9" r="0.56" fill="rgb(68,68,68)"/>
<circle cx="484.5" cy="277.0" r="0.72" fill="rgb(85,85,85)"/>
<circle cx="509.8" cy="283.7" r="0.54" fill="rgb(25,25,25)"/>
<circle cx="469.8" cy="287.4" r="0.77" fill="rgb(121,121,121)"/>
</g>
<path d="M446,275 Q448.5,267.8 458,266.8 Q467.5,266.6 472.5,270.5 Q476,274.5 473.5,278 Q469.5,283.6 460,284.4 Q450,284.6 446.5,279.5Z" fill="url(#h3)" filter="url(#b08)"/>
<circle cx="458.5" cy="275.4" r="7.3" fill="#ececec" filter="url(#b05)"/>
<circle cx="458.3" cy="275.3" r="4.3" fill="#363636" filter="url(#b03)"/>
<polyline points="445,322.8 448,321.5 450.5,318 453,311 455,304 456.8,298.5 458.5,296.2 460.2,298.5 462,304 464,311 466.5,316.5 469.5,319.5 473,321.2 479,322.3 490,322.8 500,323" fill="none" stroke="#4c4c4c" stroke-width="1.0"/>
<rect x="280.3" y="337.4" width="73.1" height="64.6" fill="#000"/>
<rect x="282.7" y="340.9" width="68.69999999999999" height="58.0" fill="none" stroke="#4c4c4c" stroke-width="1.0"/>
<line x1="305.4" y1="340.9" x2="305.4" y2="398.9" stroke="#4c4c4c" stroke-width="1.0"/>
<line x1="320.3" y1="340.9" x2="320.3" y2="398.9" stroke="#4c4c4c" stroke-width="1.0"/>
<line x1="334.9" y1="340.9" x2="334.9" y2="398.9" stroke="#4c4c4c" stroke-width="1.0"/>
<line x1="282.7" y1="376.2" x2="351.4" y2="376.2" stroke="#4c4c4c" stroke-width="1.0"/>
<ellipse cx="319.9" cy="355.1" rx="16" ry="12.9" fill="url(#ringA)" filter="url(#b03)"/>
<path d="M313.5,351.5 Q315.5,348.6 319,348.4 Q323.5,348 325.5,351 Q327.2,354.5 326,358.5 Q324,362.2 319.5,362 Q316.5,361.8 315.5,359.5 Q313.5,358 312.5,356 Q311.8,353.5 313.5,351.5Z" fill="#3c3c3c" filter="url(#b03)"/>
<polyline points="305.50,398.67 305.88,398.61 306.25,398.54 306.62,398.45 307.00,398.34 307.38,398.22 307.75,398.07 308.12,397.89 308.50,397.68 308.88,397.44 309.25,397.16 309.62,396.84 310.00,396.47 310.38,396.06 310.75,395.59 311.12,395.07 311.50,394.49 311.88,393.86 312.25,393.17 312.62,392.42 313.00,391.61 313.38,390.76 313.75,389.86 314.12,388.91 314.50,387.93 314.88,386.93 315.25,385.91 315.62,384.88 316.00,383.86 316.38,382.87 316.75,381.90 317.12,380.98 317.50,380.13 317.88,379.35 318.25,378.65 318.62,378.05 319.00,377.56 319.38,377.19 319.75,376.94 320.12,376.81 320.50,376.82 320.88,376.95 321.25,377.21 321.62,377.59 322.00,378.09 322.38,378.70 322.75,379.40 323.12,380.18 323.50,381.04 323.88,381.96 324.25,382.93 324.62,383.93 325.00,384.95 325.38,385.97 325.75,386.99 326.12,388.00 326.50,388.97 326.88,389.92 327.25,390.82 327.62,391.67 328.00,392.47 328.38,393.22 328.75,393.90 329.12,394.53 329.50,395.11 329.88,395.62 330.25,396.09 330.62,396.50 331.00,396.86 331.38,397.18 331.75,397.46 332.12,397.70 332.50,397.90 332.88,398.08 333.25,398.23 333.62,398.35 334.00,398.46 334.38,398.54 334.75,398.61 335.12,398.67 335.50,398.72" fill="none" stroke="#4c4c4c" stroke-width="1.0"/>
<rect x="361.1" y="337.4" width="71.4" height="73.4" fill="#000"/>
<rect x="363.8" y="340" width="66.59999999999997" height="66.69999999999999" fill="none" stroke="#4c4c4c" stroke-width="1.0"/>
<line x1="374.4" y1="340" x2="374.4" y2="406.7" stroke="#4c4c4c" stroke-width="1.0"/>
<line x1="417.1" y1="340" x2="417.1" y2="406.7" stroke="#3a3a3a" stroke-width="1.0"/>
<line x1="363.8" y1="375.6" x2="430.4" y2="375.6" stroke="#4c4c4c" stroke-width="1.0"/>
<ellipse cx="382" cy="357" rx="10" ry="11.5" fill="#6a6a6a" filter="url(#b15)"/>
<g filter="url(#b05)">
<circle cx="387.4" cy="352.3" r="0.80" fill="rgb(107,107,107)"/>
<circle cx="394.1" cy="360.1" r="0.53" fill="rgb(89,89,89)"/>
<circle cx="385.0" cy="368.8" r="1.02" fill="rgb(144,144,144)"/>
<circle cx="382.2" cy="346.6" r="0.70" fill="rgb(67,67,67)"/>
<circle cx="395.1" cy="349.9" r="0.45" fill="rgb(70,70,70)"/>
<circle cx="382.6" cy="361.9" r="0.84" fill="rgb(105,105,105)"/>
<circle cx="387.8" cy="357.0" r="0.64" fill="rgb(53,53,53)"/>
<circle cx="399.5" cy="363.3" r="0.48" fill="rgb(33,33,33)"/>
<circle cx="402.0" cy="359.5" r="0.55" fill="rgb(60,60,60)"/>
<circle cx="389.1" cy="352.2" r="0.66" fill="rgb(114,114,114)"/>
<circle cx="396.2" cy="366.6" r="0.78" fill="rgb(52,52,52)"/>
<circle cx="399.5" cy="364.7" r="0.66" fill="rgb(52,52,52)"/>
<circle cx="382.7" cy="366.8" r="0.46" fill="rgb(40,40,40)"/>
<circle cx="393.2" cy="357.2" r="0.61" fill="rgb(87,87,87)"/>
<circle cx="400.6" cy="350.4" r="0.86" fill="rgb(39,39,39)"/>
<circle cx="382.5" cy="352.6" r="0.89" fill="rgb(129,129,129)"/>
<circle cx="385.7" cy="349.2" r="0.91" fill="rgb(73,73,73)"/>
<circle cx="387.6" cy="348.9" r="0.80" fill="rgb(109,109,109)"/>
<circle cx="406.4" cy="363.7" r="0.71" fill="rgb(46,46,46)"/>
<circle cx="401.7" cy="354.3" r="0.68" fill="rgb(43,43,43)"/>
<circle cx="407.1" cy="362.9" r="0.65" fill="rgb(33,33,33)"/>
<circle cx="387.6" cy="354.4" r="0.67" fill="rgb(74,74,74)"/>
<circle cx="384.0" cy="359.0" r="0.78" fill="rgb(133,133,133)"/>
<circle cx="403.0" cy="358.5" r="0.93" fill="rgb(36,36,36)"/>
<circle cx="404.9" cy="354.3" r="0.76" fill="rgb(30,30,30)"/>
<circle cx="392.6" cy="358.9" r="0.86" fill="rgb(114,114,114)"/>
<circle cx="401.8" cy="350.4" r="0.95" fill="rgb(52,52,52)"/>
<circle cx="382.5" cy="347.1" r="1.03" fill="rgb(131,131,131)"/>
<circle cx="382.5" cy="360.8" r="0.92" fill="rgb(49,49,49)"/>
<circle cx="396.0" cy="352.7" r="0.94" fill="rgb(45,45,45)"/>
<circle cx="391.9" cy="362.9" r="0.64" fill="rgb(65,65,65)"/>
<circle cx="408.6" cy="359.8" r="0.78" fill="rgb(33,33,33)"/>
<circle cx="398.6" cy="361.2" r="0.69" fill="rgb(82,82,82)"/>
<circle cx="402.6" cy="360.1" r="0.96" fill="rgb(61,61,61)"/>
<circle cx="402.9" cy="363.6" r="0.85" fill="rgb(63,63,63)"/>
<circle cx="392.0" cy="361.8" r="0.70" fill="rgb(102,102,102)"/>
<circle cx="389.0" cy="349.8" r="1.09" fill="rgb(107,107,107)"/>
<circle cx="387.8" cy="350.1" r="0.70" fill="rgb(52,52,52)"/>
<circle cx="385.9" cy="368.4" r="0.62" fill="rgb(37,37,37)"/>
<circle cx="382.9" cy="361.1" r="0.53" fill="rgb(135,135,135)"/>
<circle cx="382.3" cy="356.5" r="1.04" fill="rgb(110,110,110)"/>
<circle cx="382.1" cy="347.7" r="0.55" fill="rgb(55,55,55)"/>
<circle cx="384.8" cy="362.7" r="0.56" fill="rgb(105,105,105)"/>
<circle cx="383.9" cy="352.2" r="0.93" fill="rgb(52,52,52)"/>
<circle cx="386.3" cy="358.6" r="0.74" fill="rgb(126,126,126)"/>
<circle cx="385.3" cy="366.6" r="0.64" fill="rgb(143,143,143)"/>
<circle cx="392.7" cy="366.7" r="0.55" fill="rgb(71,71,71)"/>
<circle cx="382.2" cy="368.6" r="0.67" fill="rgb(141,141,141)"/>
<circle cx="392.1" cy="357.8" r="1.09" fill="rgb(54,54,54)"/>
<circle cx="396.3" cy="352.6" r="0.73" fill="rgb(30,30,30)"/>
<circle cx="387.7" cy="364.2" r="0.82" fill="rgb(109,109,109)"/>
<circle cx="383.5" cy="349.1" r="0.58" fill="rgb(72,72,72)"/>
<circle cx="404.4" cy="357.7" r="1.10" fill="rgb(47,47,47)"/>
<circle cx="385.4" cy="358.3" r="0.94" fill="rgb(48,48,48)"/>
<circle cx="382.0" cy="365.5" r="0.98" fill="rgb(148,148,148)"/>
<circle cx="382.5" cy="351.8" r="0.47" fill="rgb(128,128,128)"/>
<circle cx="390.7" cy="356.8" r="0.81" fill="rgb(122,122,122)"/>
<circle cx="403.9" cy="354.5" r="0.69" fill="rgb(54,54,54)"/>
<circle cx="406.4" cy="351.7" r="0.55" fill="rgb(45,45,45)"/>
<circle cx="392.6" cy="358.0" r="0.98" fill="rgb(43,43,43)"/>
<circle cx="386.3" cy="353.1" r="0.61" fill="rgb(38,38,38)"/>
<circle cx="390.3" cy="362.1" r="0.88" fill="rgb(65,65,65)"/>
<circle cx="382.8" cy="354.9" r="1.08" fill="rgb(92,92,92)"/>
<circle cx="402.8" cy="359.9" r="0.66" fill="rgb(30,30,30)"/>
<circle cx="398.2" cy="352.8" r="0.72" fill="rgb(63,63,63)"/>
<circle cx="382.0" cy="369.8" r="0.54" fill="rgb(141,141,141)"/>
<circle cx="394.9" cy="353.5" r="0.78" fill="rgb(58,58,58)"/>
<circle cx="386.0" cy="353.7" r="0.87" fill="rgb(76,76,76)"/>
<circle cx="385.2" cy="350.4" r="0.63" fill="rgb(120,120,120)"/>
<circle cx="407.6" cy="358.4" r="0.63" fill="rgb(38,38,38)"/>
<circle cx="402.7" cy="351.1" r="0.47" fill="rgb(35,35,35)"/>
<circle cx="397.0" cy="361.3" r="0.68" fill="rgb(41,41,41)"/>
<circle cx="403.1" cy="358.9" r="0.56" fill="rgb(33,33,33)"/>
<circle cx="383.4" cy="348.3" r="0.45" fill="rgb(84,84,84)"/>
<circle cx="406.5" cy="356.5" r="0.85" fill="rgb(38,38,38)"/>
<circle cx="400.3" cy="362.9" r="0.63" fill="rgb(48,48,48)"/>
<circle cx="388.8" cy="346.9" r="0.89" fill="rgb(72,72,72)"/>
<circle cx="409.2" cy="361.2" r="0.83" fill="rgb(32,32,32)"/>
<circle cx="382.0" cy="353.3" r="0.86" fill="rgb(77,77,77)"/>
<circle cx="382.8" cy="354.5" r="0.95" fill="rgb(99,99,99)"/>
<circle cx="402.6" cy="359.3" r="0.94" fill="rgb(35,35,35)"/>
<circle cx="405.8" cy="358.2" r="0.75" fill="rgb(37,37,37)"/>
<circle cx="383.2" cy="362.7" r="0.76" fill="rgb(162,162,162)"/>
<circle cx="398.4" cy="363.4" r="1.06" fill="rgb(41,41,41)"/>
<circle cx="395.3" cy="351.7" r="0.57" fill="rgb(36,36,36)"/>
<circle cx="393.6" cy="361.4" r="1.05" fill="rgb(56,56,56)"/>
<circle cx="387.5" cy="356.7" r="1.08" fill="rgb(43,43,43)"/>
<circle cx="383.1" cy="367.4" r="0.79" fill="rgb(102,102,102)"/>
<circle cx="393.1" cy="352.8" r="1.09" fill="rgb(106,106,106)"/>
<circle cx="402.3" cy="359.1" r="0.98" fill="rgb(34,34,34)"/>
<circle cx="385.8" cy="366.7" r="0.80" fill="rgb(59,59,59)"/>
<circle cx="402.8" cy="352.6" r="0.45" fill="rgb(49,49,49)"/>
<circle cx="382.1" cy="349.5" r="1.06" fill="rgb(167,167,167)"/>
<circle cx="396.3" cy="353.9" r="0.92" fill="rgb(75,75,75)"/>
<circle cx="388.0" cy="359.6" r="0.41" fill="rgb(118,118,118)"/>
<circle cx="384.1" cy="356.7" r="0.67" fill="rgb(48,48,48)"/>
<circle cx="393.4" cy="351.0" r="0.58" fill="rgb(73,73,73)"/>
<circle cx="393.3" cy="354.2" r="0.43" fill="rgb(83,83,83)"/>
<circle cx="396.8" cy="351.0" r="0.82" fill="rgb(93,93,93)"/>
<circle cx="390.4" cy="355.6" r="0.88" fill="rgb(91,91,91)"/>
<circle cx="400.0" cy="361.8" r="1.10" fill="rgb(54,54,54)"/>
<circle cx="403.1" cy="363.0" r="0.70" fill="rgb(44,44,44)"/>
<circle cx="393.3" cy="365.6" r="0.77" fill="rgb(74,74,74)"/>
<circle cx="389.3" cy="366.3" r="0.44" fill="rgb(63,63,63)"/>
<circle cx="398.8" cy="364.5" r="0.82" fill="rgb(71,71,71)"/>
<circle cx="399.7" cy="354.2" r="0.45" fill="rgb(60,60,60)"/>
<circle cx="383.0" cy="356.2" r="0.68" fill="rgb(97,97,97)"/>
<circle cx="382.2" cy="362.4" r="0.57" fill="rgb(103,103,103)"/>
<circle cx="386.2" cy="355.1" r="0.45" fill="rgb(58,58,58)"/>
<circle cx="406.1" cy="364.1" r="1.01" fill="rgb(42,42,42)"/>
<circle cx="389.0" cy="364.2" r="0.92" fill="rgb(53,53,53)"/>
<circle cx="393.3" cy="365.6" r="0.95" fill="rgb(38,38,38)"/>
<circle cx="383.0" cy="358.4" r="0.40" fill="rgb(158,158,158)"/>
<circle cx="384.9" cy="352.7" r="0.44" fill="rgb(70,70,70)"/>
<circle cx="405.5" cy="362.1" r="0.65" fill="rgb(39,39,39)"/>
<circle cx="393.9" cy="348.6" r="1.03" fill="rgb(32,32,32)"/>
<circle cx="386.3" cy="357.5" r="1.08" fill="rgb(140,140,140)"/>
<circle cx="390.4" cy="351.3" r="1.05" fill="rgb(58,58,58)"/>
<circle cx="405.5" cy="353.1" r="0.65" fill="rgb(48,48,48)"/>
<circle cx="390.4" cy="350.5" r="1.10" fill="rgb(116,116,116)"/>
<circle cx="384.2" cy="360.7" r="1.02" fill="rgb(54,54,54)"/>
<circle cx="382.2" cy="347.7" r="0.62" fill="rgb(130,130,130)"/>
<circle cx="405.7" cy="362.8" r="0.49" fill="rgb(45,45,45)"/>
<circle cx="397.7" cy="365.4" r="0.46" fill="rgb(57,57,57)"/>
<circle cx="384.5" cy="352.9" r="0.54" fill="rgb(120,120,120)"/>
<circle cx="383.8" cy="351.1" r="0.95" fill="rgb(117,117,117)"/>
<circle cx="387.8" cy="361.1" r="0.81" fill="rgb(128,128,128)"/>
<circle cx="384.6" cy="352.8" r="0.87" fill="rgb(147,147,147)"/>
<circle cx="385.6" cy="360.8" r="1.09" fill="rgb(40,40,40)"/>
<circle cx="389.5" cy="358.1" r="0.43" fill="rgb(84,84,84)"/>
<circle cx="394.4" cy="353.3" r="0.96" fill="rgb(49,49,49)"/>
<circle cx="382.6" cy="352.2" r="0.57" fill="rgb(133,133,133)"/>
<circle cx="385.6" cy="358.6" r="1.03" fill="rgb(52,52,52)"/>
<circle cx="409.5" cy="351.6" r="0.93" fill="rgb(31,31,31)"/>
<circle cx="388.1" cy="367.1" r="0.53" fill="rgb(84,84,84)"/>
<circle cx="392.9" cy="360.4" r="0.86" fill="rgb(60,60,60)"/>
<circle cx="400.9" cy="357.8" r="0.99" fill="rgb(52,52,52)"/>
<circle cx="397.3" cy="357.9" r="0.52" fill="rgb(90,90,90)"/>
<circle cx="400.8" cy="351.9" r="0.56" fill="rgb(57,57,57)"/>
<circle cx="389.5" cy="363.4" r="0.95" fill="rgb(110,110,110)"/>
<circle cx="384.8" cy="357.2" r="0.81" fill="rgb(57,57,57)"/>
<circle cx="391.2" cy="347.8" r="0.90" fill="rgb(86,86,86)"/>
<circle cx="393.5" cy="364.9" r="0.51" fill="rgb(44,44,44)"/>
<circle cx="382.0" cy="357.4" r="0.71" fill="rgb(90,90,90)"/>
<circle cx="385.3" cy="364.5" r="1.04" fill="rgb(38,38,38)"/>
<circle cx="393.4" cy="358.4" r="0.57" fill="rgb(95,95,95)"/>
<circle cx="383.3" cy="352.9" r="0.62" fill="rgb(35,35,35)"/>
<circle cx="395.1" cy="358.0" r="0.81" fill="rgb(49,49,49)"/>
<circle cx="382.6" cy="365.4" r="0.58" fill="rgb(53,53,53)"/>
<circle cx="383.5" cy="362.1" r="0.95" fill="rgb(140,140,140)"/>
<circle cx="382.3" cy="355.3" r="0.55" fill="rgb(80,80,80)"/>
<circle cx="408.7" cy="351.5" r="0.93" fill="rgb(33,33,33)"/>
<circle cx="409.4" cy="353.0" r="0.92" fill="rgb(31,31,31)"/>
<circle cx="382.2" cy="351.0" r="0.50" fill="rgb(153,153,153)"/>
<circle cx="388.3" cy="353.0" r="0.45" fill="rgb(76,76,76)"/>
<circle cx="382.1" cy="369.9" r="0.91" fill="rgb(136,136,136)"/>
<circle cx="384.7" cy="351.6" r="0.57" fill="rgb(99,99,99)"/>
<circle cx="390.1" cy="366.7" r="0.64" fill="rgb(66,66,66)"/>
<circle cx="409.2" cy="358.9" r="0.68" fill="rgb(30,30,30)"/>
<circle cx="396.0" cy="349.2" r="0.89" fill="rgb(53,53,53)"/>
<circle cx="404.2" cy="358.9" r="0.72" fill="rgb(55,55,55)"/>
<circle cx="388.3" cy="365.1" r="0.95" fill="rgb(71,71,71)"/>
<circle cx="384.4" cy="353.8" r="0.78" fill="rgb(53,53,53)"/>
<circle cx="383.6" cy="350.3" r="0.73" fill="rgb(58,58,58)"/>
<circle cx="386.3" cy="356.3" r="0.88" fill="rgb(147,147,147)"/>
<circle cx="404.1" cy="353.0" r="0.45" fill="rgb(41,41,41)"/>
<circle cx="397.5" cy="355.0" r="0.41" fill="rgb(47,47,47)"/>
<circle cx="383.8" cy="351.8" r="1.05" fill="rgb(81,81,81)"/>
<circle cx="398.4" cy="353.4" r="0.51" fill="rgb(50,50,50)"/>
<circle cx="407.2" cy="355.6" r="0.91" fill="rgb(40,40,40)"/>
<circle cx="406.0" cy="350.6" r="0.67" fill="rgb(36,36,36)"/>
<circle cx="382.5" cy="367.0" r="0.94" fill="rgb(74,74,74)"/>
<circle cx="391.8" cy="348.3" r="0.57" fill="rgb(65,65,65)"/>
<circle cx="382.2" cy="348.8" r="0.42" fill="rgb(112,112,112)"/>
<circle cx="386.3" cy="355.7" r="0.50" fill="rgb(94,94,94)"/>
<circle cx="398.1" cy="353.2" r="0.87" fill="rgb(73,73,73)"/>
<circle cx="383.3" cy="350.3" r="0.90" fill="rgb(67,67,67)"/>
<circle cx="388.6" cy="355.0" r="0.56" fill="rgb(122,122,122)"/>
<circle cx="385.9" cy="353.9" r="0.43" fill="rgb(55,55,55)"/>
<circle cx="382.1" cy="360.8" r="0.97" fill="rgb(109,109,109)"/>
<circle cx="408.9" cy="354.9" r="1.04" fill="rgb(33,33,33)"/>
<circle cx="384.4" cy="362.0" r="1.07" fill="rgb(115,115,115)"/>
<circle cx="404.3" cy="353.5" r="0.46" fill="rgb(47,47,47)"/>
<circle cx="389.2" cy="355.2" r="0.67" fill="rgb(36,36,36)"/>
<circle cx="386.7" cy="357.4" r="0.51" fill="rgb(62,62,62)"/>
<circle cx="388.5" cy="357.0" r="0.87" fill="rgb(47,47,47)"/>
<circle cx="384.9" cy="347.8" r="0.70" fill="rgb(72,72,72)"/>
<circle cx="383.4" cy="359.5" r="0.79" fill="rgb(123,123,123)"/>
<circle cx="397.8" cy="348.9" r="0.66" fill="rgb(53,53,53)"/>
<circle cx="382.3" cy="355.1" r="0.75" fill="rgb(37,37,37)"/>
</g>
<ellipse cx="375.6" cy="356.6" rx="10.6" ry="12.2" fill="url(#r5)" filter="url(#b08)"/>
<g filter="url(#b05)" opacity="0.6">
<circle cx="370.3" cy="353.1" r="1.03" fill="rgb(250,250,250)"/>
<circle cx="377.1" cy="357.4" r="1.04" fill="rgb(250,250,250)"/>
<circle cx="371.4" cy="354.6" r="0.89" fill="rgb(215,215,215)"/>
<circle cx="371.7" cy="360.4" r="0.52" fill="rgb(250,250,250)"/>
<circle cx="374.5" cy="352.2" r="0.88" fill="rgb(205,205,205)"/>
<circle cx="371.4" cy="352.2" r="0.54" fill="rgb(255,255,255)"/>
<circle cx="381.2" cy="359.4" r="0.73" fill="rgb(255,255,255)"/>
<circle cx="377.1" cy="355.6" r="0.91" fill="rgb(215,215,215)"/>
<circle cx="374.7" cy="363.5" r="1.09" fill="rgb(255,255,255)"/>
<circle cx="377.9" cy="360.1" r="0.65" fill="rgb(215,215,215)"/>
<circle cx="376.8" cy="363.6" r="0.50" fill="rgb(255,255,255)"/>
<circle cx="367.7" cy="353.9" r="0.87" fill="rgb(205,205,205)"/>
<circle cx="368.0" cy="353.2" r="0.66" fill="rgb(250,250,250)"/>
<circle cx="376.6" cy="357.4" r="0.92" fill="rgb(215,215,215)"/>
<circle cx="372.2" cy="347.6" r="0.60" fill="rgb(215,215,215)"/>
<circle cx="371.0" cy="351.8" r="0.72" fill="rgb(250,250,250)"/>
<circle cx="373.9" cy="365.0" r="0.64" fill="rgb(255,255,255)"/>
<circle cx="375.6" cy="362.2" r="1.05" fill="rgb(215,215,215)"/>
<circle cx="374.9" cy="347.4" r="0.99" fill="rgb(205,205,205)"/>
<circle cx="379.4" cy="353.0" r="0.81" fill="rgb(255,255,255)"/>
<circle cx="374.8" cy="354.8" r="1.02" fill="rgb(255,255,255)"/>
<circle cx="379.9" cy="358.2" r="0.65" fill="rgb(255,255,255)"/>
<circle cx="372.0" cy="352.1" r="0.61" fill="rgb(250,250,250)"/>
<circle cx="378.1" cy="353.1" r="0.84" fill="rgb(215,215,215)"/>
<circle cx="369.0" cy="360.6" r="0.98" fill="rgb(250,250,250)"/>
<circle cx="379.5" cy="360.9" r="0.64" fill="rgb(250,250,250)"/>
<circle cx="376.0" cy="357.7" r="0.66" fill="rgb(215,215,215)"/>
<circle cx="375.0" cy="361.5" r="0.73" fill="rgb(255,255,255)"/>
<circle cx="374.2" cy="353.3" r="0.93" fill="rgb(215,215,215)"/>
<circle cx="377.0" cy="358.0" r="0.71" fill="rgb(250,250,250)"/>
<circle cx="367.8" cy="354.5" r="0.70" fill="rgb(255,255,255)"/>
<circle cx="382.1" cy="357.8" r="0.60" fill="rgb(255,255,255)"/>
<circle cx="381.0" cy="359.3" r="0.63" fill="rgb(250,250,250)"/>
<circle cx="374.6" cy="350.4" r="1.09" fill="rgb(215,215,215)"/>
<circle cx="369.8" cy="361.9" r="0.98" fill="rgb(250,250,250)"/>
<circle cx="377.9" cy="359.9" r="0.83" fill="rgb(205,205,205)"/>
<circle cx="382.3" cy="351.0" r="0.57" fill="rgb(255,255,255)"/>
<circle cx="375.0" cy="357.8" r="0.66" fill="rgb(215,215,215)"/>
<circle cx="371.5" cy="359.9" r="0.79" fill="rgb(205,205,205)"/>
<circle cx="372.5" cy="360.4" r="0.59" fill="rgb(205,205,205)"/>
</g>
<polyline points="365,406.3 366.5,398 368,391.5 370,386 372,380 374.5,376.2 377,379 379.5,385 381.5,391 383,395.5 386,399.3 389,402 392,404 396,405.4 400,406.2" fill="none" stroke="#4c4c4c" stroke-width="1.0"/>
<polyline points="377,379 379.5,387 381.5,396 383.5,406.3" fill="none" stroke="#383838" stroke-width="1.0"/>
<rect x="442" y="337.9" width="76.4" height="72.8" fill="#000"/>
<rect x="443.5" y="340.6" width="73.39999999999998" height="67.29999999999995" fill="none" stroke="#4c4c4c" stroke-width="1.0"/>
<line x1="453.8" y1="340.6" x2="453.8" y2="407.9" stroke="#4c4c4c" stroke-width="1.0"/>
<line x1="443.5" y1="380.7" x2="516.9" y2="380.7" stroke="#4c4c4c" stroke-width="1.0"/>
<path d="M462,350 Q472,352 480,356.5 Q490,361.5 499,365.5 Q501,367.5 497,368.6 Q487,369.8 478,371.8 Q466,373.5 458,372 Z" fill="url(#t6)" filter="url(#b10)"/>
<path d="M466,356 Q474,357.5 482,361 Q476,364 468,365 Z" fill="#cfcfcf" filter="url(#b08)" opacity="0.8"/>
<g filter="url(#b05)">
<circle cx="472.0" cy="367.2" r="0.40" fill="rgb(150,150,150)"/>
<circle cx="479.4" cy="355.6" r="1.09" fill="rgb(144,144,144)"/>
<circle cx="481.7" cy="354.0" r="0.79" fill="rgb(100,100,100)"/>
<circle cx="487.0" cy="357.6" r="0.98" fill="rgb(111,111,111)"/>
<circle cx="476.9" cy="356.2" r="0.57" fill="rgb(99,99,99)"/>
<circle cx="497.1" cy="362.9" r="0.43" fill="rgb(99,99,99)"/>
<circle cx="499.4" cy="367.3" r="0.87" fill="rgb(82,82,82)"/>
<circle cx="477.5" cy="353.2" r="0.44" fill="rgb(125,125,125)"/>
<circle cx="483.7" cy="368.4" r="0.66" fill="rgb(75,75,75)"/>
<circle cx="495.4" cy="358.9" r="1.05" fill="rgb(79,79,79)"/>
<circle cx="484.7" cy="358.9" r="0.87" fill="rgb(109,109,109)"/>
<circle cx="497.0" cy="365.4" r="0.74" fill="rgb(99,99,99)"/>
<circle cx="498.6" cy="360.9" r="0.84" fill="rgb(93,93,93)"/>
<circle cx="472.1" cy="354.8" r="0.91" fill="rgb(108,108,108)"/>
<circle cx="485.1" cy="358.4" r="0.84" fill="rgb(143,143,143)"/>
<circle cx="483.1" cy="358.9" r="0.86" fill="rgb(75,75,75)"/>
<circle cx="488.4" cy="358.4" r="0.53" fill="rgb(83,83,83)"/>
<circle cx="472.5" cy="354.7" r="0.54" fill="rgb(106,106,106)"/>
<circle cx="479.7" cy="355.9" r="0.53" fill="rgb(104,104,104)"/>
<circle cx="472.2" cy="360.0" r="0.47" fill="rgb(76,76,76)"/>
<circle cx="503.7" cy="365.6" r="0.41" fill="rgb(76,76,76)"/>
<circle cx="475.0" cy="353.7" r="0.81" fill="rgb(134,134,134)"/>
<circle cx="478.9" cy="361.5" r="0.75" fill="rgb(159,159,159)"/>
<circle cx="496.0" cy="367.0" r="0.45" fill="rgb(98,98,98)"/>
<circle cx="481.1" cy="369.3" r="0.94" fill="rgb(147,147,147)"/>
<circle cx="485.8" cy="354.2" r="0.86" fill="rgb(122,122,122)"/>
<circle cx="501.8" cy="357.0" r="0.64" fill="rgb(79,79,79)"/>
<circle cx="482.8" cy="365.6" r="1.08" fill="rgb(104,104,104)"/>
<circle cx="502.5" cy="357.8" r="0.92" fill="rgb(79,79,79)"/>
<circle cx="482.6" cy="361.4" r="0.75" fill="rgb(138,138,138)"/>
<circle cx="480.6" cy="362.7" r="1.04" fill="rgb(73,73,73)"/>
<circle cx="485.9" cy="361.2" r="0.43" fill="rgb(90,90,90)"/>
<circle cx="472.6" cy="358.5" r="0.63" fill="rgb(133,133,133)"/>
<circle cx="477.0" cy="364.3" r="0.73" fill="rgb(89,89,89)"/>
<circle cx="486.8" cy="355.0" r="0.93" fill="rgb(135,135,135)"/>
<circle cx="501.2" cy="357.6" r="1.05" fill="rgb(73,73,73)"/>
<circle cx="496.4" cy="357.4" r="0.47" fill="rgb(73,73,73)"/>
<circle cx="476.9" cy="357.6" r="0.43" fill="rgb(88,88,88)"/>
<circle cx="479.6" cy="362.3" r="0.55" fill="rgb(102,102,102)"/>
<circle cx="472.1" cy="360.5" r="1.07" fill="rgb(128,128,128)"/>
<circle cx="476.6" cy="354.7" r="0.93" fill="rgb(115,115,115)"/>
<circle cx="500.3" cy="357.0" r="0.44" fill="rgb(80,80,80)"/>
<circle cx="500.0" cy="367.6" r="1.06" fill="rgb(71,71,71)"/>
<circle cx="497.4" cy="358.0" r="1.05" fill="rgb(80,80,80)"/>
<circle cx="503.9" cy="359.0" r="0.69" fill="rgb(72,72,72)"/>
<circle cx="489.2" cy="355.0" r="0.73" fill="rgb(110,110,110)"/>
<circle cx="484.5" cy="355.3" r="0.77" fill="rgb(119,119,119)"/>
<circle cx="478.8" cy="370.2" r="0.79" fill="rgb(163,163,163)"/>
<circle cx="505.7" cy="360.8" r="0.89" fill="rgb(70,70,70)"/>
<circle cx="498.8" cy="367.4" r="0.55" fill="rgb(86,86,86)"/>
<circle cx="475.8" cy="367.0" r="0.81" fill="rgb(88,88,88)"/>
<circle cx="472.4" cy="357.6" r="0.64" fill="rgb(100,100,100)"/>
<circle cx="489.5" cy="359.1" r="0.45" fill="rgb(70,70,70)"/>
<circle cx="475.7" cy="366.1" r="0.94" fill="rgb(163,163,163)"/>
<circle cx="475.6" cy="353.9" r="0.66" fill="rgb(98,98,98)"/>
<circle cx="489.1" cy="358.7" r="0.49" fill="rgb(77,77,77)"/>
<circle cx="473.3" cy="362.3" r="0.74" fill="rgb(118,118,118)"/>
<circle cx="473.7" cy="354.7" r="1.07" fill="rgb(169,169,169)"/>
<circle cx="473.0" cy="364.9" r="0.73" fill="rgb(96,96,96)"/>
<circle cx="475.5" cy="360.4" r="0.85" fill="rgb(93,93,93)"/>
<circle cx="480.4" cy="359.1" r="0.86" fill="rgb(122,122,122)"/>
<circle cx="477.4" cy="365.0" r="0.83" fill="rgb(71,71,71)"/>
<circle cx="472.1" cy="359.5" r="1.01" fill="rgb(140,140,140)"/>
<circle cx="481.0" cy="358.2" r="1.02" fill="rgb(78,78,78)"/>
<circle cx="495.5" cy="356.8" r="0.72" fill="rgb(94,94,94)"/>
<circle cx="475.8" cy="367.5" r="0.42" fill="rgb(71,71,71)"/>
<circle cx="488.3" cy="365.0" r="0.97" fill="rgb(132,132,132)"/>
<circle cx="500.1" cy="364.0" r="0.45" fill="rgb(73,73,73)"/>
<circle cx="474.9" cy="362.1" r="0.86" fill="rgb(122,122,122)"/>
<circle cx="472.7" cy="356.5" r="0.95" fill="rgb(72,72,72)"/>
<circle cx="482.5" cy="357.4" r="0.48" fill="rgb(114,114,114)"/>
<circle cx="472.6" cy="371.9" r="0.95" fill="rgb(147,147,147)"/>
<circle cx="502.8" cy="362.2" r="0.75" fill="rgb(76,76,76)"/>
<circle cx="498.2" cy="362.2" r="0.96" fill="rgb(72,72,72)"/>
<circle cx="472.0" cy="371.2" r="0.95" fill="rgb(153,153,153)"/>
<circle cx="501.6" cy="363.8" r="0.73" fill="rgb(85,85,85)"/>
<circle cx="500.6" cy="361.2" r="0.66" fill="rgb(72,72,72)"/>
<circle cx="480.3" cy="367.8" r="0.48" fill="rgb(149,149,149)"/>
<circle cx="481.9" cy="363.0" r="0.94" fill="rgb(153,153,153)"/>
<circle cx="473.2" cy="371.8" r="0.45" fill="rgb(135,135,135)"/>
<circle cx="476.6" cy="365.0" r="0.62" fill="rgb(122,122,122)"/>
<circle cx="479.9" cy="357.5" r="0.73" fill="rgb(124,124,124)"/>
<circle cx="505.5" cy="362.9" r="0.47" fill="rgb(70,70,70)"/>
<circle cx="474.1" cy="369.7" r="0.75" fill="rgb(161,161,161)"/>
<circle cx="474.3" cy="363.2" r="0.83" fill="rgb(89,89,89)"/>
<circle cx="504.3" cy="364.2" r="0.98" fill="rgb(70,70,70)"/>
<circle cx="476.3" cy="367.6" r="0.92" fill="rgb(81,81,81)"/>
<circle cx="480.7" cy="358.4" r="0.68" fill="rgb(125,125,125)"/>
<circle cx="484.6" cy="368.7" r="0.93" fill="rgb(110,110,110)"/>
<circle cx="495.8" cy="360.6" r="0.55" fill="rgb(80,80,80)"/>
<circle cx="486.2" cy="364.5" r="1.03" fill="rgb(99,99,99)"/>
<circle cx="475.7" cy="371.3" r="0.50" fill="rgb(129,129,129)"/>
<circle cx="505.1" cy="366.4" r="0.84" fill="rgb(70,70,70)"/>
<circle cx="477.4" cy="363.8" r="0.46" fill="rgb(92,92,92)"/>
<circle cx="496.5" cy="360.5" r="0.63" fill="rgb(91,91,91)"/>
<circle cx="473.7" cy="358.3" r="0.51" fill="rgb(130,130,130)"/>
<circle cx="480.8" cy="358.9" r="0.87" fill="rgb(142,142,142)"/>
<circle cx="493.2" cy="355.6" r="1.07" fill="rgb(86,86,86)"/>
<circle cx="485.6" cy="362.4" r="0.66" fill="rgb(122,122,122)"/>
<circle cx="488.4" cy="356.0" r="0.65" fill="rgb(112,112,112)"/>
<circle cx="476.8" cy="370.6" r="0.99" fill="rgb(141,141,141)"/>
<circle cx="475.8" cy="367.0" r="0.53" fill="rgb(75,75,75)"/>
<circle cx="473.7" cy="367.0" r="1.00" fill="rgb(109,109,109)"/>
<circle cx="475.9" cy="363.7" r="1.06" fill="rgb(155,155,155)"/>
<circle cx="490.5" cy="360.2" r="0.80" fill="rgb(74,74,74)"/>
<circle cx="473.3" cy="360.0" r="0.58" fill="rgb(96,96,96)"/>
<circle cx="472.3" cy="355.0" r="0.60" fill="rgb(88,88,88)"/>
<circle cx="477.8" cy="371.1" r="0.68" fill="rgb(118,118,118)"/>
<circle cx="473.1" cy="354.9" r="0.90" fill="rgb(109,109,109)"/>
<circle cx="489.3" cy="364.7" r="0.78" fill="rgb(82,82,82)"/>
</g>
<path d="M446,352.5 Q452,346.5 461,347.8 Q469,350 472,356 Q474,363 470,369 Q462,373.5 452,372 Q445,369 444.8,361 Q445,356 446,352.5Z" fill="url(#r6)" filter="url(#b08)"/>
<g filter="url(#b05)" opacity="0.55">
<circle cx="461.1" cy="354.1" r="0.98" fill="rgb(255,255,255)"/>
<circle cx="467.5" cy="359.1" r="0.62" fill="rgb(200,200,200)"/>
<circle cx="465.2" cy="363.9" r="0.76" fill="rgb(215,215,215)"/>
<circle cx="451.7" cy="362.0" r="0.81" fill="rgb(200,200,200)"/>
<circle cx="464.8" cy="355.1" r="1.17" fill="rgb(200,200,200)"/>
<circle cx="452.4" cy="366.8" r="0.99" fill="rgb(200,200,200)"/>
<circle cx="451.4" cy="364.8" r="1.15" fill="rgb(200,200,200)"/>
<circle cx="459.6" cy="365.9" r="1.09" fill="rgb(215,215,215)"/>
<circle cx="464.7" cy="366.2" r="0.79" fill="rgb(255,255,255)"/>
<circle cx="465.7" cy="354.5" r="0.97" fill="rgb(215,215,215)"/>
<circle cx="464.3" cy="357.1" r="0.86" fill="rgb(255,255,255)"/>
<circle cx="450.6" cy="360.8" r="1.04" fill="rgb(215,215,215)"/>
<circle cx="457.5" cy="361.0" r="0.96" fill="rgb(215,215,215)"/>
<circle cx="451.6" cy="365.9" r="0.82" fill="rgb(255,255,255)"/>
<circle cx="452.2" cy="356.6" r="0.84" fill="rgb(215,215,215)"/>
<circle cx="463.7" cy="359.3" r="0.66" fill="rgb(255,255,255)"/>
<circle cx="457.4" cy="368.1" r="0.68" fill="rgb(200,200,200)"/>
<circle cx="466.4" cy="363.4" r="0.67" fill="rgb(255,255,255)"/>
<circle cx="460.2" cy="368.8" r="0.89" fill="rgb(200,200,200)"/>
<circle cx="467.4" cy="358.6" r="0.77" fill="rgb(255,255,255)"/>
<circle cx="461.2" cy="362.8" r="0.98" fill="rgb(200,200,200)"/>
<circle cx="454.1" cy="360.0" r="0.90" fill="rgb(255,255,255)"/>
<circle cx="452.5" cy="358.3" r="0.81" fill="rgb(215,215,215)"/>
<circle cx="463.9" cy="359.0" r="0.57" fill="rgb(255,255,255)"/>
<circle cx="459.0" cy="355.7" r="1.10" fill="rgb(215,215,215)"/>
<circle cx="457.5" cy="354.4" r="1.04" fill="rgb(215,215,215)"/>
<circle cx="449.8" cy="355.5" r="0.98" fill="rgb(255,255,255)"/>
<circle cx="451.6" cy="367.0" r="0.93" fill="rgb(255,255,255)"/>
<circle cx="462.8" cy="351.8" r="0.67" fill="rgb(200,200,200)"/>
<circle cx="465.3" cy="360.9" r="0.97" fill="rgb(255,255,255)"/>
<circle cx="456.3" cy="366.9" r="0.84" fill="rgb(255,255,255)"/>
<circle cx="457.2" cy="365.0" r="1.16" fill="rgb(255,255,255)"/>
<circle cx="461.6" cy="364.8" r="0.93" fill="rgb(215,215,215)"/>
<circle cx="449.8" cy="357.8" r="0.71" fill="rgb(255,255,255)"/>
<circle cx="450.1" cy="363.7" r="0.84" fill="rgb(215,215,215)"/>
<circle cx="455.7" cy="354.9" r="1.16" fill="rgb(215,215,215)"/>
<circle cx="450.5" cy="359.7" r="1.12" fill="rgb(255,255,255)"/>
<circle cx="464.6" cy="363.2" r="0.71" fill="rgb(200,200,200)"/>
<circle cx="467.7" cy="360.2" r="0.64" fill="rgb(200,200,200)"/>
<circle cx="454.0" cy="364.2" r="0.54" fill="rgb(215,215,215)"/>
<circle cx="456.7" cy="357.9" r="0.79" fill="rgb(200,200,200)"/>
<circle cx="463.9" cy="367.1" r="0.81" fill="rgb(200,200,200)"/>
<circle cx="456.7" cy="357.5" r="0.93" fill="rgb(255,255,255)"/>
<circle cx="466.4" cy="356.0" r="0.79" fill="rgb(200,200,200)"/>
<circle cx="455.2" cy="360.2" r="0.52" fill="rgb(255,255,255)"/>
</g>
<polyline points="444.8,406.8 446.2,400 447.8,393 449.8,388 451.8,385.5 453.8,381.5 456,383.5 457.5,388 458.8,395 459.8,401 460.5,406.8" fill="none" stroke="#4c4c4c" stroke-width="1.0"/>
<polyline points="462.8,382.5 464.5,386 466.5,390 469,393.5 472,396.5 476,399.5 480,401.8 485,403.8 490,405.3 495,406.4 500,407" fill="none" stroke="#4c4c4c" stroke-width="1.0"/>
</svg></body></html>
